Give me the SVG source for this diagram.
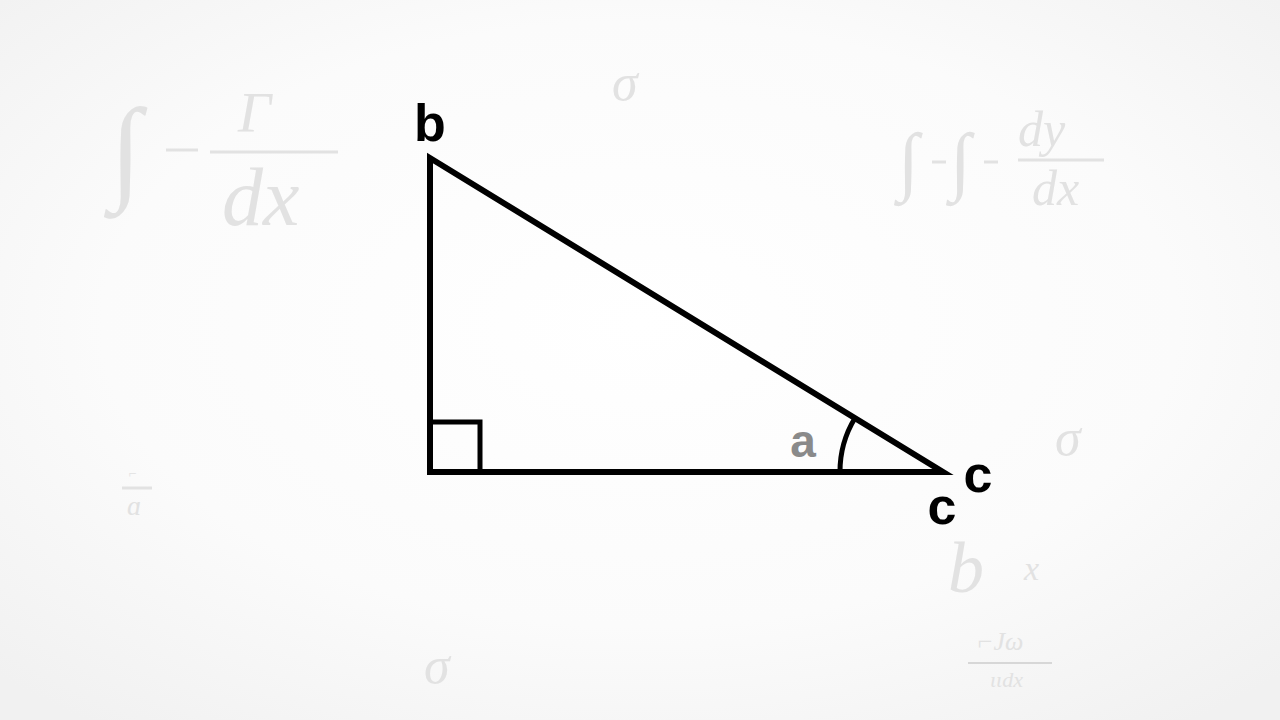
<svg xmlns="http://www.w3.org/2000/svg" width="1280" height="720" viewBox="0 0 1280 720">
  <defs>
    <radialGradient id="bg" cx="50%" cy="45%" r="70%">
      <stop offset="0" stop-color="#ffffff"/>
      <stop offset="0.6" stop-color="#fbfbfb"/>
      <stop offset="1" stop-color="#f1f1f1"/>
    </radialGradient>
    <style>
      .f { font-family: "Liberation Serif", "DejaVu Serif", serif; font-style: italic; fill: #e2e2e2; }
      .fl { stroke: #e2e2e2; stroke-width: 3; }
      .lbl { font-family: "Liberation Sans", Arial, sans-serif; font-weight: bold; fill: #000; }
      .tri { fill: none; stroke: #000; stroke-width: 6; stroke-linejoin: miter; stroke-linecap: square; }
    </style>
  </defs>
  <rect width="1280" height="720" fill="url(#bg)"/>

  <g id="background-formulas">
    <text class="f" x="110" y="188" font-size="115">∫</text>
    <line class="fl" x1="166" y1="150" x2="198" y2="150"/>
    <text class="f" x="238" y="132" font-size="58" fill="#e8e8e8">Γ</text>
    <line class="fl" x1="210" y1="152" x2="338" y2="152"/>
    <text class="f" x="222" y="225" font-size="82">dx</text>

    <text class="f" x="898" y="186" font-size="76">∫</text>
    <line class="fl" x1="932" y1="162" x2="946" y2="162" stroke-width="2"/>
    <text class="f" x="950" y="186" font-size="76">∫</text>
    <line class="fl" x1="984" y1="162" x2="998" y2="162" stroke-width="2"/>
    <text class="f" x="1018" y="146" font-size="50">dy</text>
    <line class="fl" x1="1018" y1="160" x2="1104" y2="160" stroke-width="2"/>
    <text class="f" x="1032" y="205" font-size="50">dx</text>

    <text class="f" x="612" y="100" font-size="52" fill="#ececec">σ</text>
    <text class="f" x="1055" y="455" font-size="52" fill="#ececec">σ</text>
    <text class="f" x="424" y="683" font-size="52" fill="#ececec">σ</text>

    <text class="f" x="128" y="478" font-size="14">⌐</text>
    <line class="fl" x1="122" y1="488" x2="152" y2="488" stroke-width="1.5"/>
    <text class="f" x="127" y="515" font-size="28">ɑ</text>

    <text class="f" x="948" y="592" font-size="72" fill="#e6e6e6">b</text>
    <text class="f" x="1024" y="580" font-size="34" fill="#8a8a8a">x</text>
    <text class="f" x="976" y="650" font-size="26" fill="#a0a0a0">⌐Jω</text>
    <line x1="968" y1="663" x2="1052" y2="663" stroke="#cccccc" stroke-width="1.5"/>
    <text class="f" x="990" y="687" font-size="22" fill="#d0d0d0">ιιdx</text>
  </g>

  <g id="connectors">
    <polygon class="tri" points="430,158 430,472 943,472"/>
    <rect id="right-angle" x="430" y="422" width="50" height="50" fill="none" stroke="#000" stroke-width="5"/>
    <path id="angle-arc" d="M 855 418 A 103 103 0 0 0 840 472" fill="none" stroke="#000" stroke-width="5"/>
  </g>

  <g id="node-b"><text class="lbl" x="430" y="141" font-size="52" text-anchor="middle">b</text></g>
  <g id="node-a"><text class="lbl" x="803" y="457" font-size="46" text-anchor="middle" style="fill:#8a8a8a">a</text></g>
  <g id="node-c1"><text class="lbl" x="978" y="492" font-size="52" text-anchor="middle">c</text></g>
  <g id="node-c2"><text class="lbl" x="942" y="524" font-size="52" text-anchor="middle">c</text></g>
</svg>
